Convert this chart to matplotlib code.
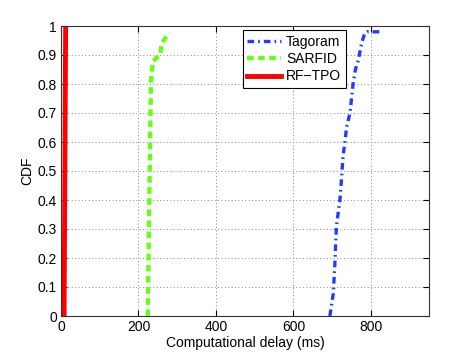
import matplotlib
matplotlib.use("Agg")
import matplotlib.pyplot as plt

# CDF curves
tagoram_x = [694, 697, 703, 705, 707, 709, 711, 716, 720, 724, 728, 733, 737, 746, 750, 754, 760, 767, 776, 784, 790, 823]
tagoram_y = [0.0, 0.025, 0.078, 0.13, 0.18, 0.25, 0.31, 0.36, 0.40, 0.47, 0.55, 0.60, 0.65, 0.70, 0.75, 0.80, 0.85, 0.88, 0.94, 0.975, 0.98, 0.98]

sarfid_x = [224, 226, 228, 230, 232, 235, 238, 256, 260, 270, 281]
sarfid_y = [0.0, 0.2, 0.4, 0.6, 0.8, 0.85, 0.88, 0.90, 0.94, 0.96, 0.975]

rftpo_x = [8, 12]
rftpo_y = [0.0, 1.0]

xticks = [0, 200, 400, 600, 800]
yticks = [0, 0.1, 0.2, 0.3, 0.4, 0.5, 0.6, 0.7, 0.8, 0.9, 1]

plt.rcParams["font.family"] = ["Liberation Sans", "DejaVu Sans"]

fig = plt.figure(figsize=(4.74, 3.55), dpi=100)
ax = fig.add_axes([61 / 474, 1 - 316 / 355, 368 / 474, 290 / 355])

ax.plot(tagoram_x, tagoram_y, color="#1f3cff", lw=2.4, dashes=(2.0, 1.2, 0.5, 1.2), label="Tagoram")
ax.plot(sarfid_x, sarfid_y, color="#66ff1a", lw=3.2, dashes=(1.5, 1.0), label="SARFID")
ax.plot(rftpo_x, rftpo_y, color="#ff0000", lw=3.5, label="RF\u2212TPO")

ax.set_xlim(0, 950)
ax.set_ylim(0, 1)
ax.set_xticks(xticks)
ax.set_yticks(yticks)
ax.set_yticklabels(["0", "0.1", "0.2", "0.3", "0.4", "0.5", "0.6", "0.7", "0.8", "0.9", "1"])
ax.tick_params(direction="in", top=True, right=True, labelsize=10, length=4, pad=3)
ax.grid(True, color="#888888", linestyle=(0, (1, 2.5)), linewidth=0.7)
for s in ax.spines.values():
    s.set_color("#333333")
    s.set_linewidth(0.8)

ax.set_xlabel("Computational delay (ms)", fontsize=10, labelpad=1)
ax.set_ylabel("CDF", fontsize=10, labelpad=2)

leg = ax.legend(loc="upper left", bbox_to_anchor=(0.495, 0.985), fontsize=10,
                fancybox=False, framealpha=1, edgecolor="black", handlelength=2.4,
                borderpad=0.3, labelspacing=0.25, handletextpad=0.4, borderaxespad=0)
leg.get_frame().set_linewidth(0.8)

fig.savefig("out.png", dpi=100)
